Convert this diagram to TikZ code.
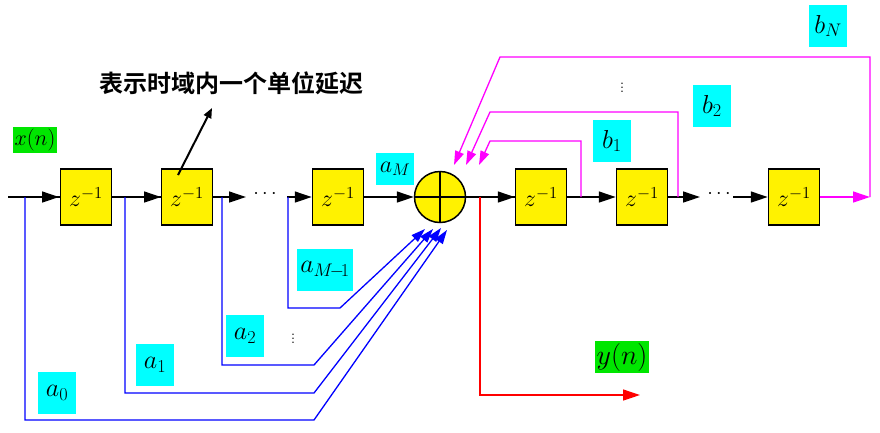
\RequirePackage{fix-cm}
\documentclass[tikz,border=0pt]{standalone}
\usepackage{fontspec}
\newfontfamily\cjk{Noto Sans CJK SC}[BoldFont={Noto Sans CJK SC Bold}]
\usetikzlibrary{calc}
\usetikzlibrary{arrows.meta}
\definecolor{cyanvif}{RGB}{0,255,255}
\definecolor{magentavif}{RGB}{255,0,255}
\definecolor{vertvif}{RGB}{0,230,0}
\definecolor{bleuvif}{RGB}{0,0,255}
\definecolor{rougevif}{RGB}{255,0,0}
\begin{document}
\begin{tikzpicture}[x=1pt,y=-1pt]

\tikzset{
    box/.style = {
    minimum height=56pt,
    minimum width = 51pt
    }
}

\tikzstyle{delai}=[draw, line width=1.5pt, fill=yellow, box, inner sep=0pt, font=\fontsize{24}{26}\selectfont]
\tikzstyle{coef}=[fill=cyanvif, inner sep=3pt, minimum width=38pt, minimum height=42pt, font=\fontsize{26}{28}\selectfont]
\tikzstyle{signal}=[fill=vertvif, inner sep=2pt, font=\fontsize{22}{24}\selectfont]
\tikzstyle{fleche}=[-{Triangle[length=17pt,width=11pt]}]
\tikzstyle{fil}=[line width=1.3pt]

\useasboundingbox (0,0) rectangle (880,432);

% retards
\node (d-1) [delai] at (86,197) {$z^{-1}$};
\node (d-2) [delai] at (187,197) {$z^{-1}$};
\node (d-3) [delai] at (338,197) {$z^{-1}$};
\node (e-1) [delai] at (541,197) {$z^{-1}$};
\node (e-2) [delai] at (642,197) {$z^{-1}$};
\node (e-3) [delai] at (794,197) {$z^{-1}$};
\node (somme) [draw, line width=1.5pt, circle, fill=yellow, minimum size=51pt] at (440,197) {};
\draw[line width=1.5pt] (somme.north)--(somme.south) (somme.west)--(somme.east);

\coordinate (entree) at (8,197);
\coordinate (pa) at (246,197);
\coordinate (pb) at (287,197);
\coordinate (pc) at (700,197);
\coordinate (pd) at (733,197);
\node (pts-a) at (265,194) {\fontsize{20}{20}\selectfont$\cdots$};
\node (pts-b) at (719,194) {\fontsize{20}{20}\selectfont$\cdots$};

% branche directe
\draw[fil] (entree)--(d-1.west);
\draw[fil,fleche] (entree)--(59,197);
\draw[fil] (d-1.east)--(d-2.west);
\draw[fil,fleche] (d-1.east)--(161,197);
\draw[fil,fleche] (d-2.east)--(pa);
\draw[fil,fleche] (pb)--(d-3.west);
\draw[fil,fleche] (d-3.east)--(somme.west);
\draw[fil] (somme.east)--(e-1.west);
\draw[fil,fleche] (480,197)--(e-1.west);
\draw[fil,fleche] (e-1.east)--(e-2.west);
\draw[fil,fleche] (e-2.east)--(pc);
\draw[fil,fleche] (pd)--(e-3.west);

% coefficients a
\foreach \x/\y/\u/\ex/\ey in {25/420/314/447/230, 125/393/314/441/228, 222/365/314/433/229, 288/308/340/425/229}{
    \draw[bleuvif,fil,-{Triangle[length=14pt,width=9pt]}] (\x,197)--(\x,\y)--(\u,\y)--(\ex,\ey);
}

% coefficients b
\draw[magentavif,fil,-{Triangle[length=14pt,width=9pt]}] (581,197)--(581,141)--(490,141)--(479,165);
\draw[magentavif,fil,-{Triangle[length=14pt,width=9pt]}] (678,197)--(678,112)--(490,112)--(466,165);
\draw[magentavif,fil,fleche] (e-3.east)--(870,197);
\draw[magentavif,fil,-{Triangle[length=14pt,width=9pt]}] (870,197)--(870,57)--(500,57)--(454,165);

% sortie
\coordinate (sortie) at (640,395);
\draw[rougevif,fil,fleche] (480,197)--(480,395)--(sortie);

% etiquettes
\node (a-0) [coef] at (57,393) {$a_0$};
\node (a-1) [coef] at (155,365) {$a_1$};
\node (a-2) [coef] at (245,336) {$a_2$};
\node (a-3) [coef,minimum width=50pt] at (325,270) {$a_{M\!-\!1}$};
\node (a-4) [coef,minimum height=32pt,font=\fontsize{24}{26}\selectfont] at (395,169) {$a_M$};
\node (b-1) [coef] at (612,141) {$b_1$};
\node (b-2) [coef] at (712,106) {$b_2$};
\node (b-3) [coef] at (828,26) {$b_N$};
\node (vd-a) at (293,336) {\fontsize{18}{18}\selectfont$\vdots$};
\node (vd-b) at (622,85) {\fontsize{18}{18}\selectfont$\vdots$};
\node (x-n) [signal] at (35,140) {$x(n)$};
\node (y-n) [signal,font=\fontsize{28}{30}\selectfont] at (622,357) {$y(n)$};

\node (texte) at (231,83) {\cjk\bfseries\fontsize{24}{26}\selectfont 表示时域内一个单位延迟};
\coordinate (pointe) at (212,108);
\draw[line width=2pt,-{Triangle[length=10pt,width=8pt]}] (178,175)--(pointe);

\end{tikzpicture}
\end{document}
